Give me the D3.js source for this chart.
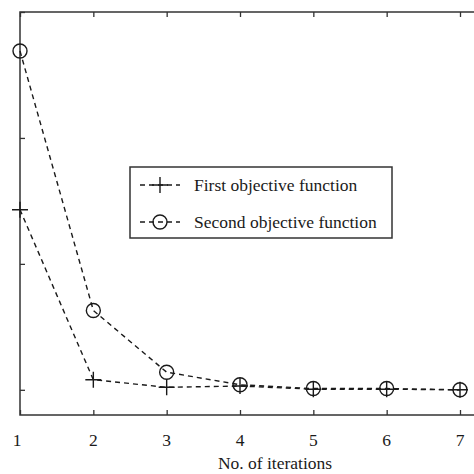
<!DOCTYPE html>
<html><head><meta charset="utf-8">
<script src="https://cdn.jsdelivr.net/npm/d3@7"></script>
<style>body{margin:0;background:#fff}svg{display:block}</style>
</head><body>
<svg id="c" width="474" height="474"></svg>
<script>
const iterations = [1, 2, 3, 4, 5, 6, 7];
const firstObjective = [1.43, 0.08, 0.02, 0.03, 0.005, 0.005, 0.0];
const secondObjective = [2.69, 0.63, 0.14, 0.04, 0.01, 0.01, 0.0];
const xTicks = [1, 2, 3, 4, 5, 6, 7];
const yTicks = [0, 1, 2, 3];
const seriesNames = ["First objective function", "Second objective function"];

(function () {
const svg = d3.select("#c");
const font = "'Liberation Serif','Times New Roman',serif";
const fs = 17.5;
const pLeft = 20, pTop = 12, pBottom = 415;
const x = d3.scaleLinear().domain([1, 7]).range([20, 460]);
const xr = 482; // right border beyond canvas
const y = d3.scaleLinear().domain([-0.2, 3]).range([pBottom, pTop]);
const axisColor = "#333";
const ink = "#1a1a1a";

svg.append("rect").attr("x", pLeft).attr("y", pTop).attr("width", xr - pLeft).attr("height", pBottom - pTop)
  .attr("fill", "none").attr("stroke", axisColor).attr("stroke-width", 1.5);

const gb = svg.append("g").attr("transform", `translate(0,${pBottom})`)
  .call(d3.axisTop(x).tickValues(xTicks).tickSize(5).tickFormat(""));
gb.select(".domain").remove();
gb.selectAll("line").attr("stroke", axisColor).attr("stroke-width", 1.3);
svg.append("g").selectAll("text").data(xTicks).join("text")
  .attr("x", d => x(d) - (d === 1 ? 3 : 0)).attr("y", 446)
  .attr("text-anchor", "middle").attr("font-family", font).attr("font-size", fs).attr("fill", ink)
  .text(d => d);

const gt = svg.append("g").attr("transform", `translate(0,${pTop})`)
  .call(d3.axisBottom(x).tickValues(xTicks).tickSize(5).tickFormat(""));
gt.select(".domain").remove();
gt.selectAll("line").attr("stroke", axisColor).attr("stroke-width", 1.3);

const gl = svg.append("g").attr("transform", `translate(${pLeft},0)`)
  .call(d3.axisRight(y).tickValues(yTicks).tickSize(5).tickFormat(""));
gl.select(".domain").remove();
gl.selectAll("line").attr("stroke", axisColor).attr("stroke-width", 1.3);

svg.append("text").attr("x", 275).attr("y", 469).attr("text-anchor", "middle")
  .attr("font-family", font).attr("font-size", fs).attr("fill", ink).text("No. of iterations");

const line = d3.line().x((d, i) => x(iterations[i])).y(d => y(d));
function drawMarker(g, cx, cy, kind) {
  if (kind === "plus") {
    g.append("path").attr("d", `M${cx-8},${cy}H${cx+8}M${cx},${cy-8}V${cy+8}`)
      .attr("stroke", ink).attr("stroke-width", 1.4).attr("fill", "none");
  } else {
    g.append("circle").attr("cx", cx).attr("cy", cy).attr("r", 7)
      .attr("stroke", ink).attr("stroke-width", 1.4).attr("fill", "none");
  }
}
function drawSeries(vals, kind) {
  svg.append("path").datum(vals).attr("d", line).attr("fill", "none")
    .attr("stroke", ink).attr("stroke-width", 1.4).attr("stroke-dasharray", "5,4");
  const g = svg.append("g");
  vals.forEach((v, i) => drawMarker(g, x(iterations[i]), y(v), kind));
}
drawSeries(firstObjective, "plus");
drawSeries(secondObjective, "circle");

const lg = svg.append("g");
lg.append("rect").attr("x", 130).attr("y", 167).attr("width", 262).attr("height", 71)
  .attr("fill", "#fff").attr("stroke", axisColor).attr("stroke-width", 1.5);
const kinds = ["plus", "circle"];
seriesNames.forEach((name, i) => {
  const ly = 185 + i * 37;
  lg.append("line").attr("x1", 140).attr("x2", 180).attr("y1", ly).attr("y2", ly)
    .attr("stroke", ink).attr("stroke-width", 1.4).attr("stroke-dasharray", "5,4");
  drawMarker(lg, 160, ly, kinds[i]);
  lg.append("text").attr("x", 194).attr("y", ly + 6).attr("font-family", font).attr("font-size", fs)
    .attr("fill", ink).text(name);
});
})();
</script>
</body></html>
